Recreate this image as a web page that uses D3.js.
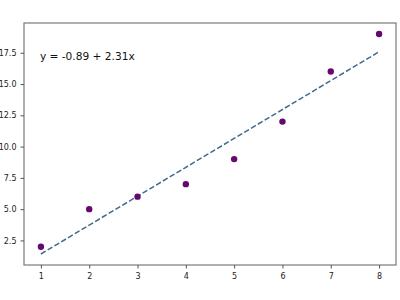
<!DOCTYPE html>
<html>
<head>
<meta charset="utf-8">
<script src="https://cdn.jsdelivr.net/npm/d3@7"></script>
<style>
  body { margin: 0; background: #fff; }
  svg { display: block; font-family: "DejaVu Sans", sans-serif; }
</style>
</head>
<body>
<svg id="chart" width="400" height="300"></svg>
<script>
// data
const xs = [1, 2, 3, 4, 5, 6, 7, 8];
const ys = [2, 5, 6, 7, 9, 12, 16, 19];
const xTicks = [1, 2, 3, 4, 5, 6, 7, 8];
const yTicks = [2.5, 5.0, 7.5, 10.0, 12.5, 15.0, 17.5];

// least squares fit
const mx = d3.mean(xs), my = d3.mean(ys);
const slope = d3.sum(xs, (x, i) => (x - mx) * (ys[i] - my)) / d3.sum(xs, x => (x - mx) ** 2);
const intercept = my - slope * mx;
const fit = xs.map(x => intercept + slope * x);

const svg = d3.select("#chart");
const plotL = 24, plotR = 396, plotT = 23, plotB = 265;

// matplotlib style 5% margins
const xMin = d3.min(xs), xMax = d3.max(xs);
const yMin = Math.min(d3.min(ys), d3.min(fit)), yMax = Math.max(d3.max(ys), d3.max(fit));
const xPad = (xMax - xMin) * 0.05, yPad = (yMax - yMin) * 0.05;

const x = d3.scaleLinear().domain([xMin - xPad, xMax + xPad]).range([plotL, plotR]);
const y = d3.scaleLinear().domain([yMin - yPad, yMax + yPad]).range([plotB, plotT]);

// frame
svg.append("rect")
  .attr("x", plotL)
  .attr("y", plotT)
  .attr("width", plotR - plotL)
  .attr("height", plotB - plotT)
  .attr("fill", "none")
  .attr("stroke", "#7a7a7a")
  .attr("stroke-width", 1.2);

const xAxis = svg.append("g")
  .attr("transform", `translate(0,${plotB})`)
  .call(d3.axisBottom(x).tickValues(xTicks).tickSize(3.5).tickSizeOuter(0).tickFormat(d3.format("d")));

const yAxis = svg.append("g")
  .attr("transform", `translate(${plotL},0)`)
  .call(d3.axisLeft(y).tickValues(yTicks).tickSize(3.5).tickSizeOuter(0).tickFormat(d3.format(".1f")));

[xAxis, yAxis].forEach(g => {
  g.select(".domain").remove();
  g.selectAll(".tick line").attr("stroke", "#555");
  g.selectAll(".tick text")
    .attr("font-size", 8)
    .attr("font-family", "DejaVu Sans, sans-serif")
    .attr("fill", "#222");
});
xAxis.selectAll(".tick text").attr("dy", "0.9em");
yAxis.selectAll(".tick text").attr("dx", "-1px");

// regression line
const line = d3.line()
  .x((d, i) => x(xs[i]))
  .y(d => y(d));

svg.append("path")
  .datum(fit)
  .attr("d", line)
  .attr("fill", "none")
  .attr("stroke", "#40698f")
  .attr("stroke-width", 1.5)
  .attr("stroke-dasharray", "5.5,2.4");

// points
svg.selectAll("circle")
  .data(ys)
  .enter()
  .append("circle")
    .attr("cx", (d, i) => x(xs[i]))
    .attr("cy", d => y(d))
    .attr("r", 3.2)
    .attr("fill", "#66086f");

// equation label
svg.append("text")
  .attr("x", x(1) - 1)
  .attr("y", 60)
  .attr("font-size", 10.6)
  .attr("fill", "#111")
  .text(`y = ${intercept.toFixed(2)} + ${slope.toFixed(2)}x`);
</script>
</body>
</html>
